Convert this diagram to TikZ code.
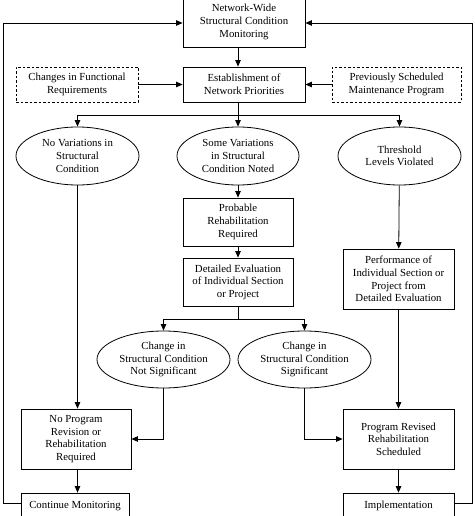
\documentclass[tikz,border=0pt]{standalone}
\usepackage{fontspec}
\setmainfont{Liberation Serif}
\usetikzlibrary{shapes.geometric,arrows.meta}
\begin{document}
\begin{tikzpicture}[x=1pt, y=-1pt, line width=0.8pt, >={Triangle[length=6.5pt,width=5.5pt]},
  every node/.style={font=\fontsize{10.8}{12.6}\selectfont, align=center, inner sep=0pt},
  box/.style={draw, rectangle},
  dbox/.style={draw, rectangle, dashed, dash pattern=on 2.5pt off 2pt},
  oval/.style={draw, ellipse}]
\clip (0,0) rectangle (474,516);
\node[box, minimum width=122, minimum height=50] (mon) at (244,22){Network-Wide\\Structural Condition\\Monitoring};
\node[box, minimum width=122, minimum height=35] (prio) at (244,84.5){Establishment of\\Network Priorities};
\node[dbox, minimum width=122, minimum height=35] (func) at (77,84.5){Changes in Functional\\Requirements};
\node[dbox, minimum width=129, minimum height=35] (maint) at (396.5,84.5){Previously Scheduled\\Maintenance Program};
\node[oval, minimum width=123, minimum height=58] (ell1) at (77.5,156){No Variations in\\Structural\\Condition};
\node[oval, minimum width=122, minimum height=58] (ell2) at (238,156){Some Variations\\in Structural\\Condition Noted};
\node[oval, minimum width=123, minimum height=58] (ell3) at (399.5,156){Threshold\\Levels Violated};
\node[box, minimum width=110, minimum height=48] (prob) at (238,222){Probable\\Rehabilitation\\Required};
\node[box, minimum width=110, minimum height=48] (deta) at (238,282){Detailed Evaluation\\of Individual Section\\or Project};
\node[box, minimum width=111, minimum height=60] (perf) at (398.5,279){Performance of\\Individual Section or\\Project from\\Detailed Evaluation};
\node[oval, minimum width=133, minimum height=57] (ell4) at (163.5,359.5){Change in\\Structural Condition\\Not Significant};
\node[oval, minimum width=133, minimum height=57] (ell5) at (304.5,359.5){Change in\\Structural Condition\\Significant};
\node[box, minimum width=110, minimum height=60] (norev) at (76,439){No Program\\Revision or\\Rehabilitation\\Required};
\node[box, minimum width=111, minimum height=60] (prvs) at (398.5,439){Program Revised\\Rehabilitation\\Scheduled};
\node[box, minimum width=108, minimum height=26] (cont) at (75,506){Continue Monitoring};
\node[box, minimum width=111, minimum height=26] (impl) at (398.5,506){Implementation};
\coordinate (br1) at (238,115);
\coordinate (br2) at (238,319);
\coordinate (lpL) at (3,0);
\coordinate (lpR) at (472,0);
\draw[->] (mon.south -| prob) -- (prio.north -| prob);
\draw[->] (func) -- (prio);
\draw[->] (maint) -- (prio);
\draw (prio.south -| prob) -- (br1);
\draw[->] (br1) -| (ell1);
\draw[->] (br1) -- (ell2);
\draw[->] (br1) -| (ell3);
\draw[->] (ell2) -- (prob);
\draw[->] (prob) -- (deta);
\draw (deta) -- (br2);
\draw[->] (br2) -| (ell4);
\draw[->] (br2) -| (ell5);
\draw[->] (ell3) -- (perf);
\draw[->] (perf) -- (prvs);
\draw[->] (ell1.south) -- (ell1.south |- norev.north);
\draw[->] (ell4.south) |- (norev.east);
\draw[->] (ell5.south) |- (prvs.west);
\draw[->] (norev.south -| ell1) -- (cont.north -| ell1);
\draw[->] (prvs) -- (impl);
\draw[->] ([yshift=3pt]cont.west) -- ([yshift=3pt]cont.west -| lpL) |- ([yshift=-1pt]mon.west);
\draw[->] ([yshift=3pt]impl.east) -- ([yshift=3pt]impl.east -| lpR) |- ([yshift=-1pt]mon.east);
\end{tikzpicture}
\end{document}
